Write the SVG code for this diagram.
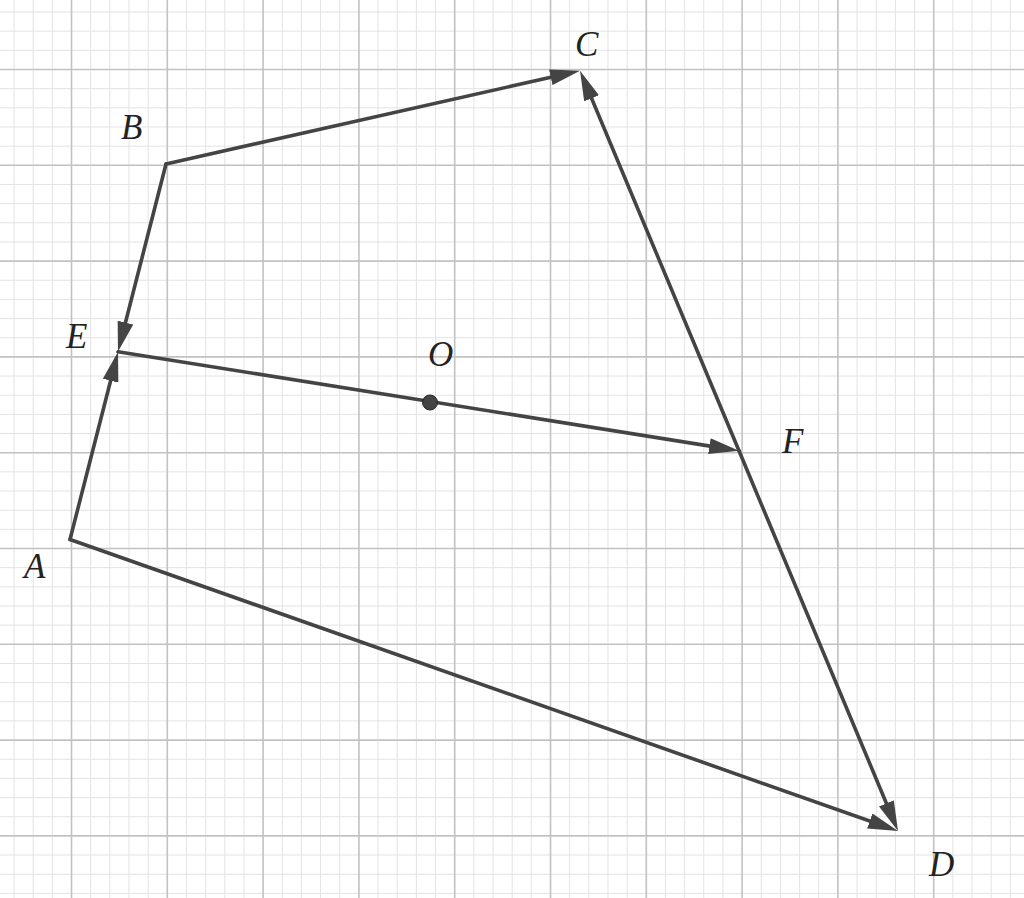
<svg xmlns="http://www.w3.org/2000/svg" width="1024" height="898" viewBox="0 0 1024 898">
<style>
.minor{stroke:#e3e3e3;stroke-width:1;fill:none}
.major{stroke:#c2c2c2;stroke-width:1.6;fill:none}
.vec{stroke:#444;stroke-width:3.6;fill:none;stroke-linecap:round;marker-end:url(#ah)}
.seg{stroke:#444;stroke-width:3.6;fill:none;stroke-linecap:round}
.lbl{font-family:"Liberation Serif","DejaVu Serif",serif;font-style:italic;font-size:35px;fill:#222}
</style>
<defs>
<marker id="ah" markerUnits="userSpaceOnUse" markerWidth="30" markerHeight="16" viewBox="0 0 30 16" refX="15" refY="8" orient="auto">
<path d="M0,0 L30,8 L0,16 z" fill="#444"/>
</marker>
</defs>
<rect width="1024" height="898" fill="#fff"/>
<g id="grid">
<path class="minor" d="M14.02 0V898M33.18 0V898M52.34 0V898M90.66 0V898M109.82 0V898M128.98 0V898M148.14 0V898M186.46 0V898M205.62 0V898M224.78 0V898M243.94 0V898M282.26 0V898M301.42 0V898M320.58 0V898M339.74 0V898M378.06 0V898M397.22 0V898M416.38 0V898M435.54 0V898M473.86 0V898M493.02 0V898M512.18 0V898M531.34 0V898M569.66 0V898M588.82 0V898M607.98 0V898M627.14 0V898M665.46 0V898M684.62 0V898M703.78 0V898M722.94 0V898M761.26 0V898M780.42 0V898M799.58 0V898M818.74 0V898M857.06 0V898M876.22 0V898M895.38 0V898M914.54 0V898M952.86 0V898M972.02 0V898M991.18 0V898M1010.34 0V898
M0 12.02H1024M0 31.18H1024M0 50.34H1024M0 88.66H1024M0 107.82H1024M0 126.98H1024M0 146.14H1024M0 184.46H1024M0 203.62H1024M0 222.78H1024M0 241.94H1024M0 280.26H1024M0 299.42H1024M0 318.58H1024M0 337.74H1024M0 376.06H1024M0 395.22H1024M0 414.38H1024M0 433.54H1024M0 471.86H1024M0 491.02H1024M0 510.18H1024M0 529.34H1024M0 567.66H1024M0 586.82H1024M0 605.98H1024M0 625.14H1024M0 663.46H1024M0 682.62H1024M0 701.78H1024M0 720.94H1024M0 759.26H1024M0 778.42H1024M0 797.58H1024M0 816.74H1024M0 855.06H1024M0 874.22H1024M0 893.38H1024"/>
<path class="major" d="M71.5 0V898M167.3 0V898M263.1 0V898M358.9 0V898M454.7 0V898M550.5 0V898M646.3 0V898M742.1 0V898M837.9 0V898M933.7 0V898
M0 69.5H1024M0 165.3H1024M0 261.1H1024M0 356.9H1024M0 452.7H1024M0 548.5H1024M0 644.3H1024M0 740.1H1024M0 835.9H1024"/>
</g>
<g id="connectors">
<path class="vec" d="M70 539.5L114.3 366.2"/>
<path class="vec" d="M166 164L121.7 337.2"/>
<path class="vec" d="M166 164L565.4 74"/>
<path class="vec" d="M118 351.7L724.2 448.4"/>
<path class="vec" d="M739 450.8L585.8 84.5"/>
<path class="vec" d="M739 450.8L892.2 817.2"/>
<path class="vec" d="M70 539.5L883.9 826"/>
</g>
<g id="A"><text class="lbl" x="24" y="578">A</text></g>
<g id="B"><text class="lbl" x="121" y="139">B</text></g>
<g id="C"><text class="lbl" x="575" y="56">C</text></g>
<g id="D"><text class="lbl" x="929" y="876">D</text></g>
<g id="E"><text class="lbl" x="66" y="348">E</text></g>
<g id="F"><text class="lbl" x="782" y="453">F</text></g>
<g id="O"><circle cx="430" cy="402.5" r="7.5" fill="#444" stroke="#222" stroke-width="1"/><text class="lbl" x="428" y="366">O</text></g>
</svg>
